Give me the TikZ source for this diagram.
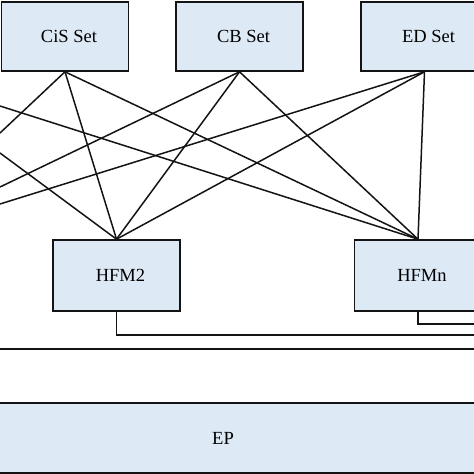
\documentclass[tikz,border=0pt]{standalone}
\usepackage{fontspec}
\setmainfont{Liberation Serif}
\definecolor{boxblue}{RGB}{222,233,246}
\definecolor{ink}{RGB}{20,20,20}
\begin{document}
\begin{tikzpicture}[x=1pt,y=-1pt,
  box/.style={draw=ink, fill=boxblue, line width=1.6pt, minimum width=127pt, minimum height=69pt, inner sep=0pt, font=\fontsize{18.5}{21}\selectfont},
  ln/.style={draw=ink, line width=1.5pt}]
\useasboundingbox (0,0) rectangle (474,474);
\clip (0,0) rectangle (474,474);
\fill[white] (0,0) rectangle (474,474);
% top sets
\node[box] (cis) at (65,36.5) {\hspace*{8pt}CiS Set};
\node[box] (cb) at (239.5,36.5) {\hspace*{8pt}CB Set};
\node[box] (ed) at (424.5,36.5) {\hspace*{8pt}ED Set};
% HFM boxes
\node[box, minimum height=71pt] (hfm2) at (116.5,275.5) {\hspace*{8pt}HFM2};
\node[box, minimum height=71pt] (hfmn) at (418,275.5) {\hspace*{8pt}HFMn};
% EP
\node[box, minimum width=520pt, minimum height=70pt] (ep) at (223,438) {EP};
% off-canvas ends on the left
\coordinate (L1) at (0,133);
\coordinate (L2) at (0,187);
\coordinate (L3) at (0,204);
\coordinate (L4) at (0,106);
\coordinate (L5) at (0,153);
% off-canvas ends on the right
\coordinate (R1) at (480,335);
\coordinate (R2) at (480,324);
\coordinate (A) at (-5,349);
\coordinate (B) at (480,349);
% connectors
\draw[ln] (cis.south) -- (L1);
\draw[ln] (cis.south) -- (hfm2.north);
\draw[ln] (cis.south) -- (hfmn.north);
\draw[ln] (cb.south) -- (L2);
\draw[ln] (cb.south) -- (hfm2.north);
\draw[ln] (cb.south) -- (hfmn.north);
\draw[ln] (ed.south) -- (L3);
\draw[ln] (ed.south) -- (hfm2.north);
\draw[ln] (ed.south) -- (hfmn.north);
\draw[ln] (L4) -- (hfmn.north);
\draw[ln] (L5) -- (hfm2.north);
\draw[ln] (hfm2.south) |- (R1);
\draw[ln] (hfmn.south) |- (R2);
\draw[ln] (A) -- (B);
\end{tikzpicture}
\end{document}
